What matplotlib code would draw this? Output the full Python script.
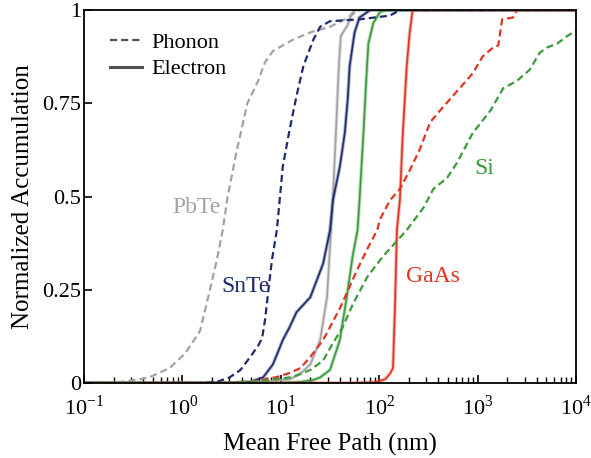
import numpy as np
import matplotlib
matplotlib.use("Agg")
import matplotlib.pyplot as plt
from matplotlib.ticker import LogLocator, FixedLocator, NullFormatter
from matplotlib.lines import Line2D

plt.rcParams['font.family'] = ['Liberation Serif', 'DejaVu Serif']
plt.rcParams['mathtext.fontset'] = 'custom'
plt.rcParams['mathtext.rm'] = 'Liberation Serif'

# log10 of mean free path (nm) and normalized accumulation
pbte_ph_logx = [-1, -0.63, -0.43, -0.33, -0.13, 0.03, 0.18, 0.28, 0.35, 0.41, 0.46, 0.55, 0.66, 0.77, 0.84, 0.92, 1.12, 1.30, 1.50, 1.65, 1.80, 4.0]
pbte_ph_y    = [0, 0.003, 0.01, 0.016, 0.04, 0.08, 0.14, 0.25, 0.33, 0.41, 0.50, 0.62, 0.75, 0.81, 0.86, 0.89, 0.92, 0.94, 0.955, 0.975, 1.0, 1.0]

snte_ph_logx = [-1, 0.18, 0.35, 0.48, 0.59, 0.69, 0.77, 0.81, 0.84, 0.87, 0.91, 0.96, 1.02, 1.09, 1.16, 1.23, 1.33, 1.40, 1.50, 1.80, 2.11, 2.21, 4.0]
snte_ph_y    = [0, 0, 0.003, 0.015, 0.035, 0.07, 0.10, 0.12, 0.17, 0.24, 0.33, 0.41, 0.58, 0.68, 0.77, 0.85, 0.92, 0.955, 0.97, 0.975, 0.985, 1.0, 1.0]

gaas_ph_logx = [-1, 0.48, 0.69, 0.84, 0.96, 1.09, 1.20, 1.30, 1.43, 1.60, 1.77, 1.88, 1.98, 2.01, 2.11, 2.21, 2.31, 2.41, 2.52, 2.65, 2.75, 2.85, 2.95, 3.05, 3.16, 3.21, 3.25, 3.36, 3.40, 4.0]
gaas_ph_y    = [0, 0, 0.004, 0.01, 0.016, 0.027, 0.04, 0.07, 0.115, 0.20, 0.30, 0.36, 0.41, 0.44, 0.49, 0.52, 0.57, 0.625, 0.70, 0.74, 0.77, 0.80, 0.83, 0.875, 0.90, 0.905, 0.975, 0.98, 1.0, 1.0]

si_ph_logx = [-1, 0.48, 0.79, 1.12, 1.30, 1.43, 1.53, 1.63, 1.73, 1.88, 2.04, 2.28, 2.45, 2.55, 2.69, 2.79, 2.95, 3.13, 3.26, 3.40, 3.53, 3.63, 3.71, 3.81, 3.91, 4.0]
si_ph_y    = [0, 0, 0.005, 0.016, 0.035, 0.06, 0.107, 0.15, 0.21, 0.285, 0.34, 0.41, 0.47, 0.52, 0.55, 0.59, 0.67, 0.73, 0.79, 0.81, 0.84, 0.885, 0.90, 0.91, 0.93, 0.945]

snte_el_logx = [-1, 0.48, 0.69, 0.82, 0.92, 1.02, 1.09, 1.16, 1.30, 1.43, 1.50, 1.53, 1.60, 1.65, 1.68, 1.70, 1.75, 1.80, 1.91, 4.0]
snte_el_y    = [0, 0, 0.003, 0.015, 0.05, 0.115, 0.15, 0.19, 0.23, 0.32, 0.41, 0.49, 0.58, 0.67, 0.76, 0.85, 0.94, 0.98, 1.0, 1.0]

pbte_el_logx = [-1, 0.67, 1.09, 1.20, 1.30, 1.40, 1.47, 1.50, 1.53, 1.56, 1.59, 1.61, 1.68, 1.72, 1.76, 4.0]
pbte_el_y    = [0, 0, 0.01, 0.025, 0.05, 0.115, 0.23, 0.365, 0.5, 0.67, 0.85, 0.93, 0.96, 0.99, 1.0, 1.0]

si_el_logx = [-1, 0.99, 1.20, 1.33, 1.40, 1.50, 1.60, 1.67, 1.73, 1.78, 1.80, 1.84, 1.87, 1.89, 1.94, 2.01, 2.08, 4.0]
si_el_y    = [0, 0, 0.003, 0.008, 0.015, 0.035, 0.115, 0.23, 0.34, 0.41, 0.49, 0.67, 0.82, 0.91, 0.965, 0.995, 1.0, 1.0]

gaas_el_logx = [-1, 1.70, 1.96, 2.06, 2.11, 2.14, 2.16, 2.18, 2.21, 2.24, 2.28, 2.31, 2.34, 4.0]
gaas_el_y    = [0, 0, 0.002, 0.01, 0.025, 0.04, 0.2, 0.41, 0.49, 0.67, 0.85, 0.94, 1.0, 1.0]

x_ticks = [0.1, 1, 10, 100, 1000, 10000]
x_ticklabels = ['$10^{-1}$', '$10^{0}$', '$10^{1}$', '$10^{2}$', '$10^{3}$', '$10^{4}$']
y_ticks = [0, 0.25, 0.5, 0.75, 1]
y_ticklabels = ['0', '0.25', '0.5', '0.75', '1']

c_pbte = '#a3a3a3'
c_snte = '#1e2b6f'
c_gaas = '#e03522'
c_si = '#3b9b3b'

fig = plt.figure(figsize=(5.91, 4.58), dpi=100)
ax = fig.add_axes([84/591, 1-383/458, (576-84)/591, (383-10)/458])

def p(lx):
    return 10 ** np.asarray(lx)

dash = (0, (3.2, 1.8))
lw = 1.6
# electron (solid) with light halo
for lx, y, c in [(pbte_el_logx, pbte_el_y, c_pbte), (snte_el_logx, snte_el_y, c_snte),
                 (si_el_logx, si_el_y, c_si), (gaas_el_logx, gaas_el_y, c_gaas)]:
    ax.plot(p(lx), y, color=c, lw=2.6, alpha=0.35, solid_capstyle='butt')
    ax.plot(p(lx), y, color=c, lw=1.2)
for lx, y, c in [(pbte_ph_logx, pbte_ph_y, c_pbte), (snte_ph_logx, snte_ph_y, c_snte),
                 (gaas_ph_logx, gaas_ph_y, c_gaas), (si_ph_logx, si_ph_y, c_si)]:
    ax.plot(p(lx), y, color=c, lw=lw, linestyle=dash)

ax.set_xscale('log')
ax.set_xlim(0.1, 10000)
ax.set_ylim(0, 1)
ax.xaxis.set_major_locator(FixedLocator(x_ticks))
ax.set_xticklabels(x_ticklabels)
ax.xaxis.set_minor_locator(LogLocator(base=10, subs=np.arange(2, 10)))
ax.xaxis.set_minor_formatter(NullFormatter())
ax.set_yticks(y_ticks)
ax.set_yticklabels(y_ticklabels)
ax.tick_params(axis='both', which='major', direction='in', length=6, width=1.2, labelsize=16, colors='black')
ax.tick_params(axis='y', which='major', pad=2)
ax.tick_params(axis='x', which='minor', direction='in', length=4, width=1.0)
ax.tick_params(axis='x', which='major', pad=9)
for s in ax.spines.values():
    s.set_linewidth(1.3)
    s.set_color('black')

ax.set_xlabel('Mean Free Path (nm)', fontsize=18, labelpad=9)
ax.set_ylabel('Normalized Accumulation', fontsize=18, labelpad=6)

ax.text(10**0.14, 0.47, 'PbTe', color=c_pbte, fontsize=17, ha='center', va='center')
ax.text(10**0.64, 0.26, 'SnTe', color=c_snte, fontsize=17, ha='center', va='center')
ax.text(10**2.55, 0.285, 'GaAs', color=c_gaas, fontsize=17, ha='center', va='center')
ax.text(10**3.07, 0.575, 'Si', color=c_si, fontsize=17, ha='center', va='center')

handles = [Line2D([], [], color='#505050', lw=1.6, linestyle=dash),
           Line2D([], [], color='#505050', lw=2.2)]
leg = ax.legend(handles, ['Phonon', 'Electron'], loc='upper left', bbox_to_anchor=(0.025, 0.975),
                frameon=False, fontsize=16, handlelength=1.45, handletextpad=0.45,
                labelspacing=0.25, borderaxespad=0.2)

fig.savefig('out.png', dpi=100)
